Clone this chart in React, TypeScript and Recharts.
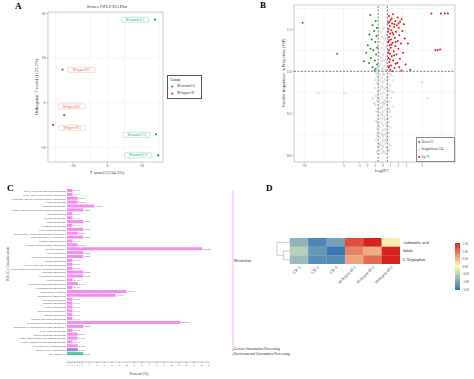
import React from "react";
import {
  Bar,
  BarChart,
  CartesianGrid,
  Cell,
  LabelList,
  ReferenceArea,
  ReferenceLine,
  Scatter,
  ScatterChart,
  XAxis,
  YAxis,
} from "recharts";

const FONT = "'Liberation Serif', 'DejaVu Serif', serif";
const AXIS_TEXT = "#4d4d4d";

// ---------- A: OPLS-DA scores ----------
const normalSamples = ["M-normal-G-1", "M-normal-G-2", "M-normal-G-3"];
const normalScore = [13.8, 14.1, 14.7];
const normalOrtho = [18.6, -7.1, -11.8];
const hypoxSamples = ["M-hypox-H-1", "M-hypox-H-2", "M-hypox-H-3"];
const hypoxScore = [-13.0, -12.5, -15.7];
const hypoxOrtho = [7.4, -2.8, -5.0];
const scoreTicksX = [-10, 0, 10];
const scoreTicksY = [-10, 0, 10, 20];

// ---------- B: volcano (log2FC, VIP) ----------
const downPoints: [number, number][] = [
  [-10.2, 1.58], [-5.8, 1.21], [-1.6, 1.67], [-0.9, 1.6], [-1.3, 1.55], [-0.75, 1.52],
  [-1.1, 1.48], [-1.7, 1.44], [-0.8, 1.42], [-1.4, 1.38], [-0.95, 1.35], [-1.9, 1.31],
  [-0.7, 1.28], [-1.2, 1.25], [-2.1, 1.22], [-0.85, 1.2], [-1.5, 1.16], [-1.0, 1.13],
  [-1.75, 1.1], [-0.72, 1.08], [-1.3, 1.05], [-2.4, 1.12], [-0.9, 1.03], [-1.55, 1.27],
  [-1.05, 1.01],
];
const upPoints: [number, number][] = [
  [6.2, 1.69], [7.4, 1.69], [7.9, 1.69], [8.3, 1.69], [6.7, 1.25], [7.0, 1.25], [7.3, 1.26],
  [0.8, 1.66], [1.3, 1.68], [1.9, 1.64], [2.4, 1.62], [1.0, 1.61], [1.6, 1.6], [2.2, 1.59],
  [0.7, 1.58], [1.2, 1.57], [2.7, 1.56], [1.8, 1.55], [0.9, 1.54], [1.45, 1.53], [2.05, 1.52],
  [0.75, 1.5], [1.1, 1.49], [2.5, 1.48], [1.7, 1.47], [0.95, 1.45], [1.35, 1.44], [2.1, 1.43],
  [0.8, 1.41], [1.55, 1.4], [2.8, 1.39], [1.05, 1.38], [1.9, 1.36], [0.72, 1.35], [1.25, 1.34],
  [2.3, 1.33], [0.88, 1.31], [1.6, 1.3], [3.2, 1.33], [1.0, 1.28], [2.0, 1.27], [0.78, 1.25],
  [1.4, 1.24], [2.6, 1.22], [0.92, 1.21], [1.75, 1.2], [1.15, 1.18], [0.7, 1.16], [2.2, 1.15],
  [1.3, 1.13], [0.85, 1.11], [1.85, 1.1], [2.9, 1.08], [1.05, 1.07], [0.75, 1.05], [1.5, 1.04],
  [3.5, 1.02], [0.95, 1.02], [2.4, 1.01], [1.2, 1.0], [1.15, 1.63], [0.85, 1.59], [2.0, 1.57],
  [1.5, 1.56], [0.7, 1.47], [1.25, 1.46], [0.8, 1.37], [1.65, 1.35], [1.1, 1.32], [0.72, 1.22],
  [1.45, 1.19], [0.9, 1.14], [1.65, 1.09], [0.8, 1.06], [2.1, 1.05],
];
const flatPoints: [number, number][] = [
  [0.12, 1.52], [-0.21, 1.47], [0.35, 1.44], [-0.05, 1.41], [0.28, 1.38], [-0.38, 1.35],
  [0.08, 1.33], [0.47, 1.3], [-0.15, 1.28], [0.21, 1.25], [-0.44, 1.22], [0.02, 1.2],
  [0.39, 1.18], [-0.27, 1.16], [0.15, 1.14], [-0.09, 1.12], [0.52, 1.1], [-0.33, 1.08],
  [0.26, 1.07], [-0.52, 1.05], [0.06, 1.04], [0.43, 1.03], [-0.18, 1.02], [0.31, 1.01],
  [-0.85, 0.98], [0.92, 0.97], [-0.41, 0.96], [0.18, 0.96], [1.12, 0.95], [-0.66, 0.94],
  [0.55, 0.93], [-0.12, 0.92], [0.73, 0.91], [-0.95, 0.9], [0.34, 0.9], [1.3, 0.89],
  [-0.28, 0.88], [0.08, 0.87], [-0.74, 0.86], [0.61, 0.85], [-0.5, 0.84], [0.97, 0.83],
  [-0.04, 0.82], [0.42, 0.81], [-1.02, 0.8], [0.25, 0.79], [-0.36, 0.78], [0.81, 0.77],
  [1.18, 0.76], [-0.61, 0.75], [0.13, 0.74], [-0.22, 0.73], [0.67, 0.72], [-0.88, 0.71],
  [0.49, 0.7], [-0.07, 0.69], [1.05, 0.68], [-0.46, 0.67], [0.29, 0.66], [-0.7, 0.65],
  [0.86, 0.64], [0.04, 0.63], [-0.31, 0.62], [0.58, 0.61], [-0.97, 0.6], [0.19, 0.59],
  [1.24, 0.58], [-0.15, 0.57], [0.74, 0.56], [-0.55, 0.55], [0.38, 0.54], [-0.8, 0.53],
  [0.02, 0.52], [0.95, 0.51], [-0.26, 0.5], [0.51, 0.49], [-0.64, 0.48], [0.16, 0.47],
  [1.1, 0.46], [-0.42, 0.45], [0.69, 0.44], [-0.1, 0.43], [0.33, 0.42], [-0.9, 0.41],
  [0.84, 0.4], [-0.2, 0.39], [0.45, 0.38], [-0.58, 0.37], [0.09, 0.36], [0.63, 0.35],
  [-0.37, 0.34], [0.98, 0.33], [-0.75, 0.32], [0.24, 0.31], [-0.03, 0.3], [0.56, 0.29],
  [-0.49, 0.28], [0.79, 0.27], [-0.17, 0.26], [0.36, 0.25], [-0.68, 0.24], [0.11, 0.23],
  [0.71, 0.22], [-0.32, 0.21], [0.48, 0.2], [-0.84, 0.19], [0.2, 0.18], [-0.08, 0.17],
  [0.6, 0.16], [-0.52, 0.15], [0.3, 0.14], [-0.24, 0.13], [0.89, 0.12], [0.05, 0.11],
  [-0.6, 0.1], [0.42, 0.09], [-0.14, 0.08], [0.67, 0.07], [-0.41, 0.06], [0.17, 0.05],
  [-0.02, 0.04], [0.52, 0.03], [-0.3, 0.02], [0.27, 0.02], [-0.72, 0.04], [0.78, 0.05],
  [-0.45, 0.91], [0.62, 0.79], [-0.6, 0.69], [0.35, 0.63], [-0.35, 0.57], [0.88, 0.54],
  [-0.12, 0.48], [0.27, 0.44], [-0.7, 0.4], [0.55, 0.34], [-0.05, 0.24], [0.4, 0.18],
  [-0.4, 0.12], [0.14, 0.62], [-0.19, 0.81], [0.07, 0.97], [1.42, 0.74], [-1.1, 0.62],
  [-8.2, 0.74], [-4.9, 0.74], [-1.25, 0.68], [5.0, 0.87], [5.7, 0.68],
];
const fcTicks = [-10, -5, -3, -2, -1, 0, 1, 2, 3, 5];
const vipTicks = [0, 0.5, 1, 1.5];
const fcCutoff = 0.585;
const vipCutoff = 1;

// ---------- C: KEGG classification ----------
const metabolismPathways = [
  "Valine, leucine and isoleucine degradation",
  "Valine, leucine and isoleucine biosynthesis",
  "Ubiquinone and other terpenoid-quinone biosynthesis",
  "Tyrosine metabolism",
  "Tryptophan metabolism",
  "Tropane, piperidine and pyridine alkaloid biosynthesis",
  "Sulfur metabolism",
  "Pyruvate metabolism",
  "Purine metabolism",
  "Propanoate metabolism",
  "Phenylalanine metabolism",
  "Phenylalanine, tyrosine and tryptophan biosynthesis",
  "Pantothenate and CoA biosynthesis",
  "Oxidative phosphorylation",
  "Nicotinate and nicotinamide metabolism",
  "Metabolic pathways",
  "Lysine degradation",
  "Isoquinoline alkaloid biosynthesis",
  "Histidine metabolism",
  "Glycine, serine and threonine metabolism",
  "Glycosylphosphatidylinositol (GPI)-anchor biosynthesis",
  "Glutathione metabolism",
  "Glucosinolate biosynthesis",
  "Folate biosynthesis",
  "Cysteine and methionine metabolism",
  "Cyanoamino acid metabolism",
  "Biosynthesis of cofactors",
  "Biosynthesis of amino acids",
  "Carotenoid biosynthesis",
  "Butanoate metabolism",
  "Caffeine metabolism",
  "Benzoxazinoid biosynthesis",
  "Arginine biosynthesis",
  "Ascorbate and aldarate metabolism",
  "Biosynthesis of secondary metabolites",
  "Biosynthesis of various plant secondary metabolites",
  "beta-Alanine metabolism",
  "Arginine and proline metabolism",
  "Amino sugar and nucleotide sugar metabolism",
  "Alanine, aspartate and glutamate metabolism",
  "2-Oxocarboxylic acid metabolism",
];
const metabolismShares = [
  2.17, 2.17, 4.35, 4.35, 10.87, 6.52, 2.17, 2.17, 6.52, 2.17, 6.52, 4.35, 6.52, 2.17,
  4.35, 54.35, 6.52, 6.52, 2.17, 2.17, 2.17, 6.52, 6.52, 2.17, 4.35, 2.17, 23.91, 19.57,
  2.17, 2.17, 2.17, 2.17, 2.17, 2.17, 45.65, 6.52, 2.17, 4.35, 4.35, 2.17, 4.35,
];
const geneticPathways = ["Aminoacyl-tRNA biosynthesis"];
const geneticShares = [4.35];
const environmentalPathways = ["ABC transporters"];
const environmentalShares = [6.52];
const percentTicks = [0, 1, 2, 3, 4, 5, 6, 9, 12, 15, 18, 21, 24, 27, 30, 33, 36, 39, 42, 45, 48, 51, 54, 57];

const classColor: Record<string, string> = {
  Metabolism: "#f58cf0",
  "Genetic Information Processing": "#9688d6",
  "Environmental Information Processing": "#5cc29a",
};

const keggRows = [
  ...metabolismPathways.map((p, i) => ({ pathway: p, share: metabolismShares[i], cls: "Metabolism" })),
  ...geneticPathways.map((p, i) => ({ pathway: p, share: geneticShares[i], cls: "Genetic Information Processing" })),
  ...environmentalPathways.map((p, i) => ({
    pathway: p,
    share: environmentalShares[i],
    cls: "Environmental Information Processing",
  })),
];

// ---------- D: heatmap ----------
const heatSamples = ["CK-1", "CK-2", "CK-3", "M-hypox-H-1", "M-hypox-H-2", "M-hypox-H-3"];
const heatMetabolites = ["Anthranilic acid", "Indole", "L-Tryptophan"];
const anthranilicZ = [-0.8, -1.3, -1.0, 1.2, 1.5, 0.1];
const indoleZ = [-0.5, -1.1, -1.45, 0.85, 0.55, 1.5];
const tryptophanZ = [-0.7, -1.2, -1.25, 0.6, 1.0, 1.5];
const scaleLabels = ["1.50", "1.00", "0.50", "0.00", "-0.50", "-1.00", "-1.50"];

const heatCells = [anthranilicZ, indoleZ, tryptophanZ].flatMap((row, r) =>
  row.map((z, c) => ({ x: c + 0.5, y: r + 0.5, z }))
);

const LOW = [47, 116, 181];
const MID = [254, 251, 189];
const HIGH = [215, 35, 31];

function heatColor(z: number) {
  const t = Math.max(-1.5, Math.min(1.5, z)) / 1.5;
  const [a, b, k] = t < 0 ? [MID, LOW, -t] : [MID, HIGH, t];
  const c = a.map((v, i) => Math.round(v + (b[i] - v) * k));
  return `rgb(${c[0]},${c[1]},${c[2]})`;
}

const tickStyle = { fontSize: 3.8, fill: AXIS_TEXT };
const tickLine = { stroke: "#666", strokeWidth: 0.4 };

const labelShift: Record<string, [number, number]> = {
  "M-normal-G-1": [-20, 0.2],
  "M-normal-G-2": [-19.5, 0.5],
  "M-normal-G-3": [-20, 0],
  "M-hypox-H-1": [19, 0.3],
  "M-hypox-H-2": [7.4, -8.7],
  "M-hypox-H-3": [19, 2.8],
};

function scorePoint(dot: string, border: string, text: string) {
  return (props: any) => {
    const { cx, cy, payload } = props;
    const [dx, dy] = labelShift[payload.name] || [0, 0];
    const w = 27;
    const h = 5;
    return (
      <g>
        <circle cx={cx} cy={cy} r={1.1} fill={dot} />
        <rect x={cx + dx - w / 2} y={cy + dy - h / 2} width={w} height={h} rx={0.8} fill="#fff" stroke={border} strokeWidth={0.4} />
        <text x={cx + dx} y={cy + dy + 1.1} textAnchor="middle" fontSize={3.1} fill={text}>
          {payload.name}
        </text>
      </g>
    );
  };
}

function dotShape(fill: string, hollow = false) {
  return (props: any) =>
    hollow ? (
      <circle cx={props.cx} cy={props.cy} r={0.9} fill="none" stroke={fill} strokeWidth={0.35} />
    ) : (
      <circle cx={props.cx} cy={props.cy} r={1} fill={fill} />
    );
}

const CELL_W = 124 / 6.75;
const CELL_H = 26 / 3;

function HeatCell(props: any) {
  const { cx, cy, payload } = props;
  return (
    <rect
      x={cx - CELL_W / 2}
      y={cy - CELL_H / 2}
      width={CELL_W + 0.2}
      height={CELL_H + 0.2}
      fill={heatColor(payload.z)}
    />
  );
}

function SampleTick(props: any) {
  const { x, y, payload } = props;
  const ax = x + 2;
  const ay = y + 2.5;
  return (
    <text x={ax} y={ay} transform={`rotate(-45 ${ax} ${ay})`} textAnchor="end" fontSize={4.2} fill="#333">
      {heatSamples[Math.floor(payload.value)]}
    </text>
  );
}

// plain single-line ticks (the default tick wraps long names)
function PathwayTick(props: any) {
  const { x, y, payload } = props;
  return (
    <text x={x} y={y} dy={0.9} textAnchor="end" fontSize={2.5} fill="#333">
      {payload.value}
    </text>
  );
}

function MetaboliteTick(props: any) {
  const { x, y, payload } = props;
  return (
    <text x={x} y={y} dy={1.4} textAnchor="start" fontSize={4} fill="#222">
      {heatMetabolites[Math.floor(payload.value)]}
    </text>
  );
}

const abs = (left: number, top: number, extra: React.CSSProperties = {}): React.CSSProperties => ({
  position: "absolute",
  left,
  top,
  whiteSpace: "nowrap",
  lineHeight: 1,
  ...extra,
});

export default function App() {
  const normalData = normalSamples.map((name, i) => ({ name, x: normalScore[i], y: normalOrtho[i] }));
  const hypoxData = hypoxSamples.map((name, i) => ({ name, x: hypoxScore[i], y: hypoxOrtho[i] }));
  const toXY = (pts: [number, number][]) => pts.map(([x, y]) => ({ x, y }));

  return (
    <div
      style={{
        position: "absolute",
        left: 0,
        top: 0,
        width: 474,
        height: 379,
        background: "#fff",
        fontFamily: FONT,
        overflow: "hidden",
      }}
    >
      {/* A */}
      <div style={abs(0, 0)}>
        <ScatterChart width={240} height={180} margin={{ top: 12, right: 77, bottom: 8, left: 0 }}>
          <CartesianGrid
            stroke="#ebebeb"
            strokeWidth={0.5}
            horizontalValues={[-10, -5, 0, 5, 10, 15, 20]}
            verticalValues={[-15, -10, -5, 0, 5, 10, 15]}
          />
          <XAxis type="number" dataKey="x" domain={[-17.2, 16.1]} ticks={scoreTicksX} height={10} tick={tickStyle}
            tickSize={1.5} tickMargin={1} axisLine={false} tickLine={tickLine} allowDataOverflow />
          <YAxis type="number" dataKey="y" domain={[-13.3, 20.3]} ticks={scoreTicksY} width={48} tick={tickStyle}
            tickSize={1.5} tickMargin={1} axisLine={false} tickLine={tickLine} allowDataOverflow />
          <ReferenceArea x1={-17.2} x2={16.1} y1={-13.3} y2={20.3} fill="none" stroke="#9a9a9a" strokeWidth={0.5} />
          <Scatter data={normalData} shape={scorePoint("#148f7c", "#6cc7b3", "#1c9d86")} isAnimationActive={false} />
          <Scatter data={hypoxData} shape={scorePoint("#c8502e", "#f1a585", "#e0673f")} isAnimationActive={false} />
        </ScatterChart>
      </div>
      <div style={abs(15, 2, { fontSize: 9, fontWeight: 700 })}>A</div>
      <div style={abs(107, 5, { fontSize: 4.5, transform: "translateX(-50%)", color: "#333" })}>Scores OPLS-DA Plot</div>
      <div style={abs(107, 171, { fontSize: 4.5, transform: "translateX(-50%)", color: "#333" })}>T score[1] (34.5%)</div>
      <div style={abs(37, 87, { fontSize: 4.5, transform: "translate(-50%, -50%) rotate(-90deg)", color: "#333" })}>
        Orthogonal T score[1] (23.2%)
      </div>
      <div style={abs(167, 75, { width: 35, height: 24, border: "0.6px solid #555", boxSizing: "border-box" })} />
      <div style={abs(170, 78, { fontSize: 4, color: "#222" })}>Group</div>
      <svg style={abs(170, 84)} width={8} height={14}>
        <circle cx={2.3} cy={2.5} r={1.1} fill="#148f7c" />
        <circle cx={2.3} cy={9.7} r={1.1} fill="#c8502e" />
      </svg>
      <div style={abs(177, 85, { fontSize: 3.6, color: "#333" })}>M-normal-G</div>
      <div style={abs(177, 92.2, { fontSize: 3.6, color: "#333" })}>M-hypox-H</div>

      {/* B */}
      <div style={abs(250, 0)}>
        <ScatterChart width={224} height={180} margin={{ top: 5, right: 19, bottom: 8, left: 0 }}>
          <CartesianGrid
            stroke="#ebebeb"
            strokeWidth={0.5}
            horizontalValues={[0, 0.25, 0.5, 0.75, 1, 1.25, 1.5, 1.75]}
            verticalValues={[-10, -7.5, -5, -2.5, 0, 2.5, 5, 7.5]}
          />
          <XAxis type="number" dataKey="x" domain={[-11.3, 9.2]} ticks={fcTicks} interval={0} height={10}
            tick={{ fontSize: 3.4, fill: AXIS_TEXT }} tickSize={1.5} tickMargin={1} axisLine={false}
            tickLine={tickLine} allowDataOverflow />
          <YAxis type="number" dataKey="y" domain={[-0.08, 1.79]} ticks={vipTicks} width={44} tick={tickStyle}
            tickFormatter={(v: number) => v.toFixed(1)} tickSize={1.5} tickMargin={1} axisLine={false}
            tickLine={tickLine} allowDataOverflow />
          <ReferenceArea x1={-11.3} x2={9.2} y1={-0.08} y2={1.79} fill="none" stroke="#9a9a9a" strokeWidth={0.5} />
          <Scatter data={toXY(flatPoints)} shape={dotShape("#a9a9a9", true)} isAnimationActive={false} />
          <Scatter data={toXY(downPoints)} shape={dotShape("#2d8a35")} isAnimationActive={false} />
          <Scatter data={toXY(upPoints)} shape={dotShape("#e0181c")} isAnimationActive={false} />
          <ReferenceLine x={-fcCutoff} stroke="#444" strokeWidth={0.7} strokeDasharray="2 1.5" />
          <ReferenceLine x={fcCutoff} stroke="#444" strokeWidth={0.7} strokeDasharray="2 1.5" />
          <ReferenceLine y={vipCutoff} stroke="#444" strokeWidth={0.7} strokeDasharray="2 1.5" />
        </ScatterChart>
      </div>
      <div style={abs(260, 1, { fontSize: 9, fontWeight: 700 })}>B</div>
      <div style={abs(382, 169, { fontSize: 4.2, transform: "translateX(-50%)", color: "#333" })}>Log2FC</div>
      <div style={abs(284, 73, { fontSize: 4.3, transform: "translate(-50%, -50%) rotate(-90deg)", color: "#333" })}>
        Variable Importance in Projection (VIP)
      </div>
      <div style={abs(416, 137, { width: 39, height: 25, background: "#fff", border: "0.5px solid #888", boxSizing: "border-box" })} />
      <svg style={abs(416, 137)} width={8} height={25}>
        <circle cx={3.2} cy={5} r={1} fill="#2d8a35" />
        <circle cx={3.2} cy={12.5} r={0.9} fill="none" stroke="#a9a9a9" strokeWidth={0.35} />
        <circle cx={3.2} cy={20} r={1} fill="#e0181c" />
      </svg>
      <div style={abs(421.5, 140.5, { fontSize: 3.2, color: "#333" })}>Down 25</div>
      <div style={abs(421.5, 148, { fontSize: 3.2, color: "#333" })}>Insignificant 534</div>
      <div style={abs(421.5, 155.5, { fontSize: 3.2, color: "#333" })}>Up 75</div>

      {/* C */}
      <div style={abs(0, 180)}>
        <BarChart layout="vertical" width={230} height={200} data={keggRows} margin={{ top: 7, right: 21, bottom: 6, left: 0 }}>
          <XAxis type="number" domain={[0, 57]} ticks={percentTicks} interval={0} height={12}
            tick={{ fontSize: 2.2, fill: AXIS_TEXT }} tickSize={1.5} tickMargin={1}
            axisLine={{ stroke: "#666", strokeWidth: 0.4 }} tickLine={tickLine} />
          <YAxis type="category" dataKey="pathway" width={67} interval={0} tick={<PathwayTick />}
            tickSize={0} tickMargin={1.5} axisLine={false} tickLine={false} padding={{ top: 2, bottom: 6 }} />
          <Bar dataKey="share" barSize={3} isAnimationActive={false}>
            {keggRows.map((r) => (
              <Cell key={r.pathway} fill={classColor[r.cls]} />
            ))}
            <LabelList dataKey="share" position="right" offset={1} fontSize={2.5} fill="#333"
              formatter={(v: any) => `${Number(v).toFixed(2)}%`} />
          </Bar>
        </BarChart>
      </div>
      <div style={abs(7, 184, { fontSize: 9, fontWeight: 700 })}>C</div>
      <div style={abs(139, 372, { fontSize: 4, transform: "translateX(-50%)", color: "#333" })}>Percent (%)</div>
      <div style={abs(8, 264, { fontSize: 4, transform: "translate(-50%, -50%) rotate(-90deg)", color: "#333" })}>
        KEGG Classification
      </div>
      <svg style={abs(231, 188)} width={4} height={170}>
        <line x1={2} x2={2} y1={2} y2={159} stroke={classColor.Metabolism} strokeWidth={0.7} />
        <line x1={2} x2={2} y1={160} y2={163} stroke={classColor["Genetic Information Processing"]} strokeWidth={0.7} />
        <line x1={2} x2={2} y1={165} y2={168} stroke={classColor["Environmental Information Processing"]} strokeWidth={0.7} />
      </svg>
      <div style={abs(234, 260, { fontSize: 3.6, color: "#333" })}>Metabolism</div>
      <div style={abs(234, 348, { fontSize: 3.6, color: "#333" })}>Genetic Information Processing</div>
      <div style={abs(234, 353, { fontSize: 3.6, color: "#333" })}>Environmental Information Processing</div>

      {/* D */}
      <div style={abs(230, 180)}>
        <ScatterChart width={244} height={199} margin={{ top: 58, right: 34, bottom: 85, left: 46 }}>
          <XAxis type="number" dataKey="x" domain={[-0.75, 6]} ticks={[0.5, 1.5, 2.5, 3.5, 4.5, 5.5]} interval={0}
            height={30} tick={<SampleTick />} tickSize={0} tickMargin={1} axisLine={false} tickLine={false}
            allowDataOverflow />
          <YAxis type="number" dataKey="y" domain={[0, 3]} reversed orientation="right" ticks={[0.5, 1.5, 2.5]}
            interval={0} width={40} tickSize={0} tickMargin={3} tick={<MetaboliteTick />} axisLine={false}
            tickLine={false} allowDataOverflow />
          <Scatter data={heatCells} shape={HeatCell} isAnimationActive={false} />
          <ReferenceLine segment={[{ x: -0.7, y: 0.5 }, { x: 0, y: 0.5 }]} stroke="#9a9a9a" strokeWidth={0.5} />
          <ReferenceLine segment={[{ x: -0.35, y: 1.5 }, { x: 0, y: 1.5 }]} stroke="#9a9a9a" strokeWidth={0.5} />
          <ReferenceLine segment={[{ x: -0.35, y: 2.5 }, { x: 0, y: 2.5 }]} stroke="#9a9a9a" strokeWidth={0.5} />
          <ReferenceLine segment={[{ x: -0.35, y: 1.5 }, { x: -0.35, y: 2.5 }]} stroke="#9a9a9a" strokeWidth={0.5} />
          <ReferenceLine segment={[{ x: -0.7, y: 2 }, { x: -0.35, y: 2 }]} stroke="#9a9a9a" strokeWidth={0.5} />
          <ReferenceLine segment={[{ x: -0.7, y: 0.5 }, { x: -0.7, y: 2 }]} stroke="#9a9a9a" strokeWidth={0.5} />
        </ScatterChart>
      </div>
      <div style={abs(266, 184, { fontSize: 9, fontWeight: 700 })}>D</div>
      <div
        style={abs(455, 243, {
          width: 5,
          height: 47,
          background: "linear-gradient(to bottom, rgb(215,35,31), rgb(254,251,189), rgb(47,116,181))",
        })}
      />
      {scaleLabels.map((s, i) => (
        <div key={s} style={abs(462.5, 243 + i * 7.6, { fontSize: 3, color: "#333" })}>
          {s}
        </div>
      ))}
    </div>
  );
}
